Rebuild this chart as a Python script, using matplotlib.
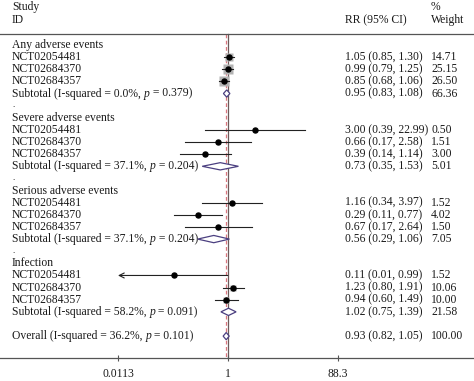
import matplotlib
matplotlib.use("Agg")
import matplotlib.pyplot as plt
import numpy as np

plt.rcParams['font.family'] = ['Liberation Serif', 'DejaVu Serif']

# ---- data ----
groups = ["Any adverse events", "Severe adverse events", "Serious adverse events", "Infection"]
studies = ["NCT02054481", "NCT02684370", "NCT02684357"]

rr = [[1.05, 0.99, 0.85], [3.00, 0.66, 0.39], [1.16, 0.29, 0.67], [0.11, 1.23, 0.94]]
lo = [[0.85, 0.79, 0.68], [0.39, 0.17, 0.14], [0.34, 0.11, 0.17], [0.01, 0.80, 0.60]]
hi = [[1.30, 1.25, 1.06], [22.99, 2.58, 1.14], [3.97, 0.77, 2.64], [0.99, 1.91, 1.49]]
weights = [[14.71, 25.15, 26.50], [0.50, 1.51, 3.00], [1.52, 4.02, 1.50], [1.52, 10.06, 10.00]]

sub_rr = [0.95, 0.73, 0.56, 1.02]
sub_lo = [0.83, 0.35, 0.29, 0.75]
sub_hi = [1.08, 1.53, 1.06, 1.39]
sub_w = [66.36, 5.01, 7.05, 21.58]
sub_i2 = ["0.0", "37.1", "37.1", "58.2"]
sub_p = ["0.379", "0.204", "0.204", "0.091"]

overall = (0.93, 0.82, 1.05, 100.00)
overall_i2, overall_p = "36.2", "0.101"

xticks = [0.0113, 1, 88.3]
xticklabels = ["0.0113", "1", "88.3"]

# ---- layout ----
W, H = 474, 381
fig = plt.figure(figsize=(W / 100, H / 100), dpi=100)
axis_px = 358
ax = fig.add_axes([0, (H - axis_px) / H, 1, axis_px / H])

px_per_dec = 56.5
one_px = 228
ax.set_xscale('log')
ax.set_xlim(10 ** (-one_px / px_per_dec), 10 ** ((W - one_px) / px_per_dec))
row0_px, row_h = 45, 12.13
ax.set_ylim((axis_px - row0_px) / row_h, -row0_px / row_h)

def prow(p):
    return (p - row0_px) / row_h

txt_col = '#1a1a1a'
fs = 8.4
lab_x = 12 / W
rr_x = 345 / W
w_x = 431 / W
trans = ax.get_yaxis_transform()  # x axes-fraction, y data

def put(x, y, s, **kw):
    return ax.text(x, y, s, transform=trans, ha='left', va='center', fontsize=fs, color=txt_col, **kw)

def put_stat(y, prefix, i2, p):
    t1 = put(lab_x, y, f"{prefix} (I-squared = {i2}%, ")
    t2 = ax.annotate("p", xy=(1, 0.5), xycoords=t1, ha='left', va='center', fontsize=fs,
                     color=txt_col, style='italic')
    ax.annotate(f" = {p})", xy=(1, 0.5), xycoords=t2, ha='left', va='center', fontsize=fs,
                color=txt_col)

# header
put(lab_x, prow(7), "Study")
put(lab_x, prow(20), "ID")
put(rr_x, prow(20), "RR (95% CI)")
put(w_x, prow(7), "%")
put(w_x, prow(20), "Weight")
top_line = prow(34)
ax.axhline(top_line, color='#555555', lw=0.9)

ymax = ax.get_ylim()[0]
ax.plot([1, 1], [top_line, ymax], color='#6b5a5a', lw=0.9, zorder=1)
ax.plot([overall[0]] * 2, [top_line, ymax], color='#d9777f', lw=0.9, ls=(0, (3, 2)), zorder=1)

xmin_plot = xticks[0]
dia_col = '#4b3f80'
dia_h = 0.3

def diamond(y, c, l, h):
    ax.fill([l, c, h, c, l], [y, y - dia_h, y, y + dia_h, y], facecolor='white',
            edgecolor=dia_col, lw=0.9, zorder=4)

def fmt_ci(c, l, h):
    return f"{c:.2f} ({l:.2f}, {h:.2f})"

row = 0
for g in range(len(groups)):
    put(lab_x, row, groups[g])
    row += 1
    for s in range(len(studies)):
        y = row
        put(lab_x, y, studies[s])
        side_px = 10.5 * np.sqrt(weights[g][s] / 26.5)
        ax.plot(rr[g][s], y, marker='s', ms=side_px * 0.72, color='#b3b3b3', mec='none', zorder=2)
        if lo[g][s] < xmin_plot:
            ax.annotate('', xy=(xmin_plot, y), xytext=(hi[g][s], y),
                        arrowprops=dict(arrowstyle='->', color='#222222', lw=0.8, mutation_scale=9,
                                        shrinkA=0, shrinkB=0), zorder=3)
        else:
            ax.plot([lo[g][s], hi[g][s]], [y, y], color='#222222', lw=0.8, zorder=3)
        ax.plot(rr[g][s], y, marker='o', ms=3.6, color='black', zorder=5)
        put(rr_x, y, fmt_ci(rr[g][s], lo[g][s], hi[g][s]))
        put(w_x, y, f"{weights[g][s]:.2f}")
        row += 1
    y = row
    put_stat(y, "Subtotal", sub_i2[g], sub_p[g])
    diamond(y, sub_rr[g], sub_lo[g], sub_hi[g])
    put(rr_x, y, fmt_ci(sub_rr[g], sub_lo[g], sub_hi[g]))
    put(w_x, y, f"{sub_w[g]:.2f}")
    row += 1
    if g < len(groups) - 1:
        ax.text(lab_x, row + 0.12, ".", transform=trans, ha='left', va='baseline',
                fontsize=6.5, color=txt_col)
    row += 1

y = row
put_stat(y, "Overall", overall_i2, overall_p)
diamond(y, overall[0], overall[1], overall[2])
put(rr_x, y, fmt_ci(*overall[:3]))
put(w_x, y, f"{overall[3]:.2f}")

# axes styling
for sp in ['top', 'left', 'right']:
    ax.spines[sp].set_visible(False)
ax.spines['bottom'].set_color('#555555')
ax.spines['bottom'].set_linewidth(0.9)
ax.set_yticks([])
ax.set_xticks(xticks)
ax.set_xticklabels(xticklabels, fontsize=fs, color=txt_col)
ax.xaxis.set_minor_locator(matplotlib.ticker.NullLocator())
ax.tick_params(axis='x', direction='inout', length=5, width=0.8, color='#555555', pad=5)
ax.patch.set_visible(False)

fig.savefig("out.png", dpi=100)
